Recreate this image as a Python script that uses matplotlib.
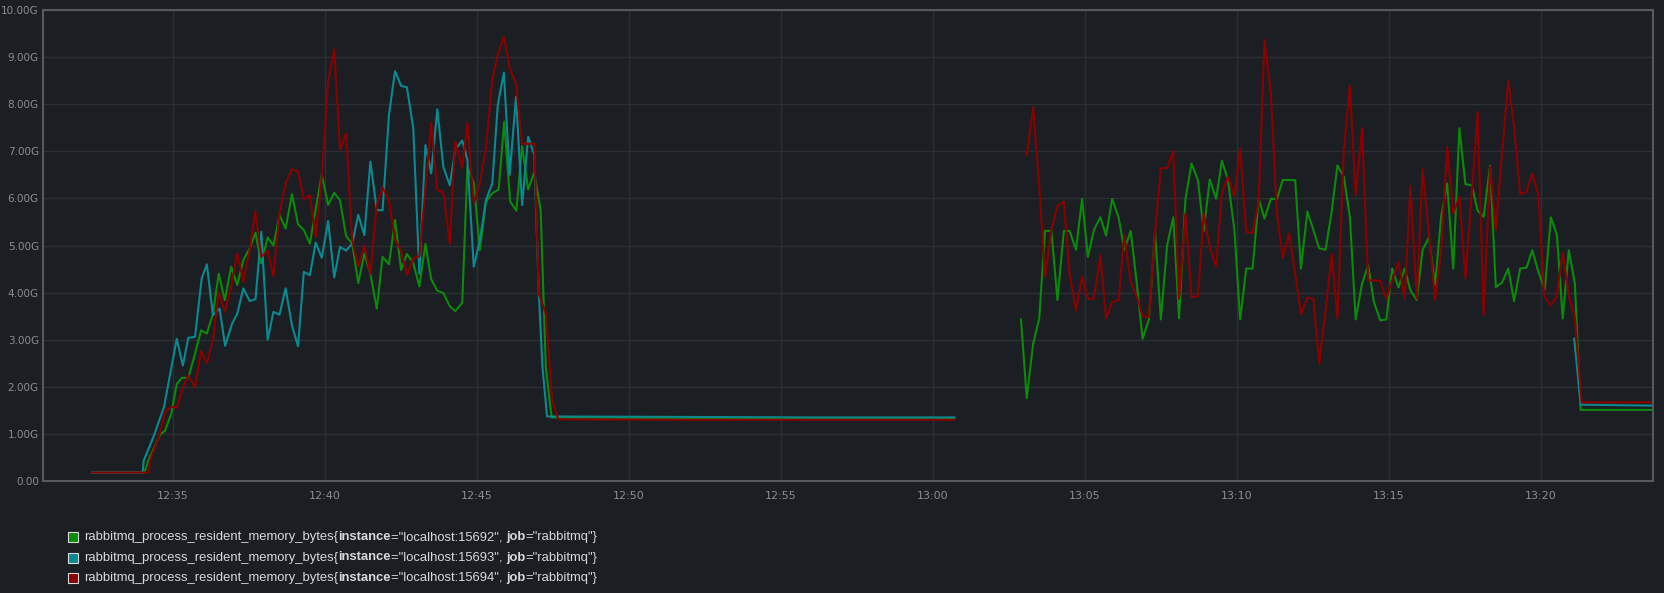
import numpy as np
import matplotlib
matplotlib.use('Agg')
import matplotlib.pyplot as plt
from matplotlib.ticker import FuncFormatter, MultipleLocator
from matplotlib.offsetbox import TextArea, HPacker, AnchoredOffsetbox

# times are minutes after 12:00, values in GB
green_a = [(32.34, 0.18), (34.06, 0.18), (34.18, 0.43), (34.59, 1.0), (34.73, 1.06), (34.94, 1.43), (35.12, 2.06),
           (35.29, 2.19), (35.5, 2.19), (35.72, 2.7), (35.92, 3.2), (36.11, 3.13), (36.31, 3.55), (36.5, 4.4),
           (36.7, 3.84), (36.91, 4.55), (37.11, 4.16), (37.31, 4.69), (37.52, 4.94), (37.71, 5.27), (37.9, 4.62),
           (38.11, 5.17), (38.3, 5.0), (38.5, 5.65), (38.7, 5.36), (38.91, 6.09), (39.11, 5.45), (39.3, 5.33),
           (39.5, 5.04), (39.69, 5.77), (39.89, 6.5), (40.1, 5.86), (40.3, 6.12), (40.49, 5.96), (40.69, 5.2),
           (40.89, 5.04), (41.09, 4.2), (41.29, 4.83), (41.49, 4.4), (41.7, 3.66), (41.89, 4.76), (42.1, 4.6),
           (42.3, 5.54), (42.5, 4.48), (42.69, 4.82), (42.9, 4.63), (43.1, 4.13), (43.3, 5.03), (43.49, 4.28),
           (43.69, 4.04), (43.89, 3.99), (44.1, 3.71), (44.28, 3.61), (44.51, 3.78), (44.68, 6.67), (44.89, 6.33),
           (45.09, 4.9), (45.29, 5.93), (45.5, 6.11), (45.71, 6.19), (45.89, 7.63), (46.09, 5.93), (46.29, 5.74),
           (46.48, 7.11), (46.68, 6.19), (46.88, 6.55), (47.09, 5.75), (47.26, 2.42), (47.45, 1.35), (52.0, 1.33),
           (56.0, 1.33), (60.7, 1.33)]
green_b = [(62.89, 3.43), (63.08, 1.76), (63.29, 2.91), (63.49, 3.45), (63.68, 5.31), (63.89, 5.31), (64.09, 3.84),
           (64.3, 5.31), (64.49, 5.31), (64.7, 4.91), (64.9, 5.99), (65.09, 4.76), (65.29, 5.33), (65.5, 5.6),
           (65.69, 5.21), (65.89, 5.99), (66.1, 5.6), (66.29, 4.91), (66.5, 5.31), (66.7, 4.19), (66.89, 3.02),
           (67.1, 3.43), (67.3, 5.3), (67.49, 3.43), (67.7, 5.01), (67.9, 5.6), (68.09, 3.45), (68.3, 5.98),
           (68.5, 6.74), (68.71, 6.39), (68.9, 5.31), (69.1, 6.4), (69.31, 5.99), (69.5, 6.8), (69.7, 6.39),
           (69.91, 5.33), (70.1, 3.43), (70.3, 4.51), (70.51, 4.51), (70.71, 5.99), (70.9, 5.57), (71.11, 5.99),
           (71.31, 5.99), (71.5, 6.39), (71.71, 6.39), (71.91, 6.39), (72.1, 4.51), (72.31, 5.72), (72.51, 5.33),
           (72.7, 4.94), (72.91, 4.91), (73.11, 5.72), (73.3, 6.7), (73.51, 6.46), (73.71, 5.6), (73.9, 3.43),
           (74.11, 4.19), (74.31, 4.58), (74.5, 3.8), (74.71, 3.41), (74.91, 3.43), (75.1, 4.51), (75.31, 4.11),
           (75.51, 4.51), (75.7, 4.05), (75.91, 3.84), (76.1, 4.91), (76.31, 5.17), (76.51, 4.16), (76.71, 5.61),
           (76.91, 6.32), (77.11, 4.51), (77.31, 7.49), (77.51, 6.3), (77.72, 6.28), (77.91, 5.74), (78.11, 5.61),
           (78.32, 6.69), (78.51, 4.12), (78.71, 4.21), (78.92, 4.51), (79.11, 3.82), (79.31, 4.51), (79.52, 4.53),
           (79.71, 4.9), (79.91, 4.44), (80.12, 4.06), (80.32, 5.6), (80.52, 5.22), (80.71, 3.45), (80.91, 4.9),
           (81.11, 4.19), (81.3, 1.51), (83.72, 1.51)]

cyan_a = [(32.34, 0.18), (34.0, 0.18), (34.03, 0.43), (34.35, 0.93), (34.7, 1.57), (35.12, 3.02), (35.32, 2.45),
          (35.5, 3.04), (35.72, 3.06), (35.94, 4.3), (36.11, 4.6), (36.31, 3.52), (36.53, 3.66), (36.71, 2.87),
          (36.94, 3.34), (37.11, 3.55), (37.31, 4.09), (37.52, 3.82), (37.71, 3.86), (37.9, 5.29), (38.11, 3.0),
          (38.3, 3.59), (38.5, 3.53), (38.7, 4.09), (38.91, 3.3), (39.11, 2.86), (39.3, 4.44), (39.5, 4.37),
          (39.69, 5.06), (39.89, 4.74), (40.1, 5.52), (40.3, 4.32), (40.49, 4.97), (40.69, 4.89), (40.89, 5.04),
          (41.09, 5.65), (41.29, 5.22), (41.49, 6.78), (41.7, 5.75), (41.89, 5.75), (42.1, 7.77), (42.3, 8.7),
          (42.5, 8.39), (42.69, 8.36), (42.9, 7.49), (43.1, 4.4), (43.3, 7.13), (43.49, 6.53), (43.69, 7.89),
          (43.89, 6.67), (44.1, 6.28), (44.28, 7.03), (44.51, 7.23), (44.68, 6.82), (44.89, 4.55), (45.09, 5.11),
          (45.29, 5.96), (45.5, 6.32), (45.68, 7.99), (45.88, 8.67), (46.07, 6.5), (46.28, 8.16), (46.48, 5.86),
          (46.68, 7.31), (46.88, 6.92), (47.03, 3.98), (47.15, 2.42), (47.3, 1.37), (52.0, 1.36), (56.0, 1.35),
          (60.7, 1.35)]
cyan_b = [(81.09, 3.02), (81.3, 1.62), (83.72, 1.6)]

red_a = [(32.34, 0.18), (34.2, 0.18), (34.24, 0.43), (34.53, 0.93), (34.73, 1.46), (34.94, 1.58), (35.12, 1.55),
         (35.32, 1.99), (35.5, 2.24), (35.72, 1.99), (35.92, 2.76), (36.11, 2.49), (36.31, 2.99), (36.5, 4.01),
         (36.7, 3.59), (36.91, 4.13), (37.11, 4.83), (37.31, 4.23), (37.52, 4.91), (37.7, 5.72), (37.9, 4.76),
         (38.11, 4.89), (38.3, 4.35), (38.5, 5.68), (38.7, 6.32), (38.91, 6.62), (39.11, 6.57), (39.3, 5.98),
         (39.5, 6.07), (39.69, 5.18), (39.89, 6.46), (40.1, 8.48), (40.3, 9.17), (40.49, 7.03), (40.69, 7.38),
         (40.89, 5.11), (41.09, 4.55), (41.29, 5.01), (41.49, 4.39), (41.7, 5.86), (41.89, 6.23), (42.1, 5.96),
         (42.3, 5.13), (42.5, 4.89), (42.69, 4.37), (42.9, 4.72), (43.1, 4.77), (43.3, 6.18), (43.49, 7.61),
         (43.69, 6.18), (43.89, 6.12), (44.1, 5.03), (44.28, 7.21), (44.51, 6.64), (44.68, 7.61), (44.89, 5.89),
         (45.09, 6.32), (45.29, 7.06), (45.5, 8.52), (45.68, 9.05), (45.88, 9.43), (46.07, 8.77), (46.28, 8.43),
         (46.48, 7.16), (46.68, 7.16), (46.88, 7.16), (47.03, 3.98), (47.26, 3.55), (47.47, 1.71), (47.67, 1.31),
         (52.0, 1.3), (56.0, 1.3), (60.7, 1.3)]
red_b = [(63.08, 6.92), (63.29, 7.94), (63.49, 6.28), (63.68, 4.33), (63.89, 5.33), (64.09, 5.84), (64.3, 5.93),
         (64.49, 4.4), (64.7, 3.62), (64.9, 4.33), (65.09, 3.87), (65.29, 3.87), (65.5, 4.79), (65.69, 3.45),
         (65.89, 3.8), (66.1, 3.84), (66.29, 5.22), (66.5, 4.23), (66.7, 3.91), (66.89, 3.5), (67.1, 3.48),
         (67.3, 5.26), (67.49, 6.64), (67.7, 6.64), (67.9, 7.01), (68.09, 3.87), (68.3, 5.68), (68.5, 3.91),
         (68.71, 3.92), (68.9, 5.68), (69.1, 4.97), (69.31, 4.55), (69.5, 6.11), (69.7, 6.46), (69.91, 6.04),
         (70.1, 7.06), (70.3, 5.29), (70.51, 5.26), (70.71, 5.93), (70.9, 9.37), (71.11, 8.23), (71.31, 5.68),
         (71.5, 4.74), (71.71, 5.26), (71.91, 4.4), (72.1, 3.54), (72.31, 3.89), (72.51, 3.87), (72.7, 2.49),
         (72.91, 3.62), (73.11, 4.82), (73.3, 3.45), (73.51, 7.03), (73.71, 8.39), (73.9, 6.07), (74.11, 7.49),
         (74.31, 4.26), (74.5, 4.26), (74.71, 4.25), (74.91, 3.87), (75.1, 4.26), (75.31, 4.65), (75.51, 3.87),
         (75.7, 6.26), (75.91, 3.87), (76.1, 6.62), (76.31, 5.26), (76.51, 3.84), (76.71, 4.87), (76.91, 7.09),
         (77.11, 5.68), (77.31, 6.04), (77.51, 4.3), (77.72, 6.11), (77.91, 7.84), (78.11, 3.52), (78.32, 6.67),
         (78.51, 5.33), (78.71, 6.92), (78.92, 8.5), (79.11, 7.53), (79.31, 6.09), (79.52, 6.14), (79.71, 6.53),
         (79.91, 6.07), (80.1, 3.94), (80.3, 3.73), (80.5, 3.89), (80.71, 4.84), (80.91, 3.94), (81.11, 3.48),
         (81.33, 1.67), (83.72, 1.67)]

ports = ['15692', '15693', '15694']
colors = ['#0b8a0b', '#0a8a90', '#8b0000']
series = [[green_a, green_b], [cyan_a, cyan_b], [red_a, red_b]]

bg = '#1b1e23'
fig = plt.figure(figsize=(16.64, 5.93), dpi=100, facecolor=bg)
ax = fig.add_axes([43 / 1664, 1 - 481 / 593, 1610 / 1664, 471 / 593], facecolor=bg)

for segs, c in zip(series, colors):
    for seg in segs:
        t = [p[0] for p in seg]
        v = [p[1] for p in seg]
        ax.plot(t, v, color=c, lw=1.5)

ax.set_xlim(30.72, 83.68)
ax.set_ylim(0, 10)
ax.xaxis.set_major_locator(MultipleLocator(5))
ax.yaxis.set_major_locator(MultipleLocator(1))
ax.xaxis.set_major_formatter(FuncFormatter(lambda x, p: '%d:%02d' % (12 + int(x) // 60, int(x) % 60)))
ax.yaxis.set_major_formatter(FuncFormatter(lambda y, p: '0.00' if y == 0 else '%.2fG' % y))
ax.grid(True, color='#2c3036', lw=1)
ax.tick_params(colors='#8a8d91', labelsize=8, length=0)
ax.tick_params(axis='y', pad=3, labelsize=7.5)
ax.tick_params(axis='x', pad=7)
for s in ax.spines.values():
    s.set_color('#55585c')
    s.set_linewidth(1.5)

# legend: colored box + text pieces packed on a common baseline
for i, (port, c) in enumerate(zip(ports, colors)):
    y = 1 - (537 + i * 20.5) / 593
    fig.patches.append(plt.Rectangle((68 / 1664, y - 5 / 593), 10 / 1664, 10 / 593, transform=fig.transFigure,
                                     facecolor=c, edgecolor='#d8d9da', lw=0.8))
    pieces = [('rabbitmq_process_resident_memory_bytes{', 'normal'), ('instance', 'bold'),
              ('="localhost:' + port + '", ', 'normal'), ('job', 'bold'), ('="rabbitmq"}', 'normal')]
    areas = [TextArea(txt, textprops=dict(color='#d8d9da', fontsize=9.4, fontweight=w, family='Liberation Sans'))
             for txt, w in pieces]
    row = HPacker(children=areas, align='baseline', pad=0, sep=0)
    box = AnchoredOffsetbox(loc='center left', child=row, pad=0, borderpad=0, frameon=False,
                            bbox_to_anchor=(84 / 1664, y), bbox_transform=fig.transFigure)
    fig.add_artist(box)

fig.savefig('out.png', facecolor=bg)
